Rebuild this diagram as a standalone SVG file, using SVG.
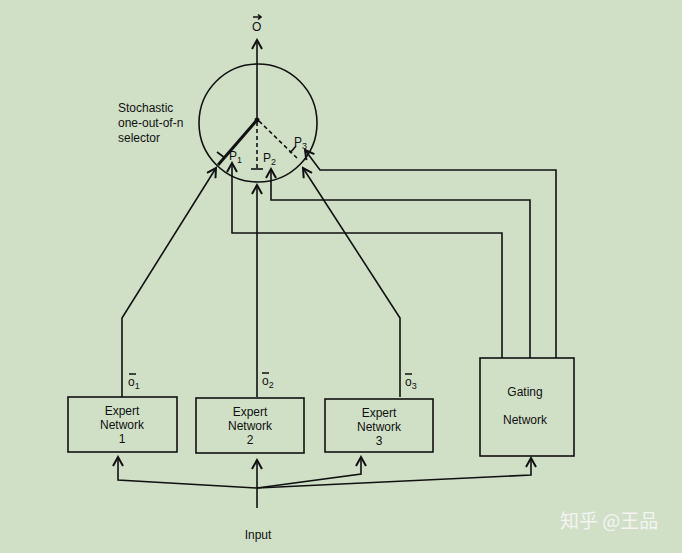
<svg xmlns="http://www.w3.org/2000/svg" width="682" height="553" viewBox="0 0 682 553">
<defs>
<marker id="a" markerWidth="12" markerHeight="12" refX="10" refY="6" orient="auto" markerUnits="userSpaceOnUse"><path d="M1,1 L10,6 L1,11" fill="none" stroke="#111" stroke-width="2"/></marker>
</defs>
<style>
.l{fill:none;stroke:#111;stroke-width:1.6}
.t{stroke-width:3}
.d{stroke-dasharray:4,3}
.b{fill:none;stroke:#111;stroke-width:1.6}
text{font-family:"Liberation Sans",Arial,sans-serif;font-size:12px;fill:#111}
</style>
<rect width="682" height="553" fill="#cfe0c6"/>
<g id="selector">
<circle cx="258" cy="123" r="59" class="b"/>
<circle cx="257" cy="120" r="2.5" fill="#111"/>
<text x="118" y="112">Stochastic</text>
<text x="118" y="127">one-out-of-n</text>
<text x="118" y="142">selector</text>
</g>
<g id="output"><text x="252" y="31" font-size="14">O</text><path d="M253,17 L261,17 M258,14.5 L261,17 L258,19.5" class="l" stroke-width="1"/></g>
<g id="expert1"><rect x="68" y="397" width="109" height="55" class="b"/><text x="122" y="415" text-anchor="middle">Expert</text><text x="122" y="429" text-anchor="middle">Network</text><text x="122" y="443" text-anchor="middle">1</text></g>
<g id="expert2"><rect x="196" y="398" width="108" height="55" class="b"/><text x="250" y="416" text-anchor="middle">Expert</text><text x="250" y="430" text-anchor="middle">Network</text><text x="250" y="444" text-anchor="middle">2</text></g>
<g id="expert3"><rect x="325" y="399" width="108" height="53" class="b"/><text x="379" y="417" text-anchor="middle">Expert</text><text x="379" y="431" text-anchor="middle">Network</text><text x="379" y="445" text-anchor="middle">3</text></g>
<g id="gating"><rect x="480" y="358" width="94" height="98" class="b"/><text x="525" y="396" text-anchor="middle">Gating</text><text x="525" y="424" text-anchor="middle">Network</text></g>
<g id="input"><text x="258" y="539" text-anchor="middle">Input</text></g>
<g id="connectors">
<path d="M257,118 V40" class="l" marker-end="url(#a)"/>
<path d="M122,397 V318 L216,168" class="l" marker-end="url(#a)"/>
<path d="M218,165 L257,120" class="l t"/>
<path d="M257,397 V185" class="l" marker-end="url(#a)"/>
<path d="M257,168 V122" class="l d"/>
<path d="M251,169 H263" class="l"/>
<path d="M400,397 V318 L303,168" class="l" marker-end="url(#a)"/>
<path d="M297,158 L259,121" class="l d"/>
<path d="M217,152 L225,158 M290,153 L296,146" class="l"/>
<path d="M502,358 V233 H232 V163" class="l" marker-end="url(#a)"/>
<path d="M530,358 V200 H271 V169" class="l" marker-end="url(#a)"/>
<path d="M556,358 V170 H320 L305,150" class="l" marker-end="url(#a)"/>
<path d="M257,508 V460" class="l" marker-end="url(#a)"/>
<path d="M257,488 L118,480 V457" class="l" marker-end="url(#a)"/>
<path d="M257,488 L361,474 V457" class="l" marker-end="url(#a)"/>
<path d="M257,488 L531,475 V458" class="l" marker-end="url(#a)"/>
</g>
<g id="labels">
<text x="229" y="160">P<tspan font-size="9" dy="3">1</tspan></text>
<text x="263" y="162">P<tspan font-size="9" dy="3">2</tspan></text>
<text x="294" y="146">P<tspan font-size="9" dy="3">3</tspan></text>
<text x="128" y="386">o<tspan font-size="9" dy="3">1</tspan></text>
<text x="262" y="385">o<tspan font-size="9" dy="3">2</tspan></text>
<text x="405" y="386">o<tspan font-size="9" dy="3">3</tspan></text>
<path d="M129,374 H136 M262,373 H269 M405,374 H412" class="l" stroke-width="1"/>
</g>
<text x="560" y="528" style="font-family:'Noto Sans CJK SC',sans-serif;font-size:19px;fill:#f4f4f4">知乎 @王品</text>
</svg>
